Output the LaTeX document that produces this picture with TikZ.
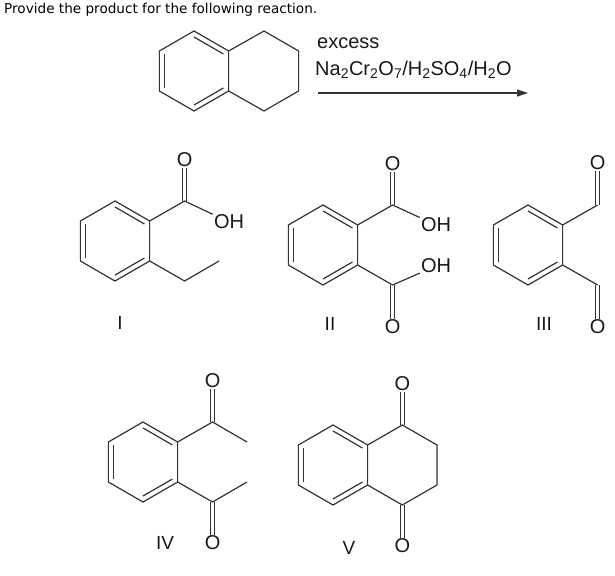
\documentclass[tikz,border=0pt]{standalone}
\usepackage{fontspec}
\setmainfont{Liberation Sans}
\newfontfamily\titlefont{DejaVu Sans}
\usetikzlibrary{calc,arrows.meta}
\newcommand\benz[3]{%
  \coordinate (#1c) at (#2,#3);
  \coordinate (#1t) at ($(#1c)+(0,-40)$);
  \coordinate (#1ur) at ($(#1c)+(34.64,-20)$);
  \coordinate (#1lr) at ($(#1c)+(34.64,20)$);
  \coordinate (#1b) at ($(#1c)+(0,40)$);
  \coordinate (#1ll) at ($(#1c)+(-34.64,20)$);
  \coordinate (#1ul) at ($(#1c)+(-34.64,-20)$);
  \draw[bond] (#1t)--(#1ur)--(#1lr)--(#1b)--(#1ll)--(#1ul)--cycle;
  \draw[bond] ($(#1t)!0.15!(#1c)$)--($(#1ur)!0.15!(#1c)$);
  \draw[bond] ($(#1lr)!0.15!(#1c)$)--($(#1b)!0.15!(#1c)$);
  \draw[bond] ($(#1ll)!0.15!(#1c)$)--($(#1ul)!0.15!(#1c)$);
}
\newcommand\dbl[2]{%
  \draw[bond] ([xshift=-2.2pt]#1) -- ([xshift=-2.2pt]#2.south);
  \draw[bond] ([xshift=2.2pt]#1) -- ([xshift=2.2pt]#2.south);
}
\newcommand\dblup[2]{%
  \draw[bond] ([xshift=-2.2pt]#1) -- ([xshift=-2.2pt]#2.north);
  \draw[bond] ([xshift=2.2pt]#1) -- ([xshift=2.2pt]#2.north);
}
\begin{document}
\begin{tikzpicture}[x=1pt,y=-1pt,
  bond/.style={draw=black!80,line width=1.2pt},
  atom/.style={font=\fontsize{20}{21}\selectfont,text=black!90,inner sep=1pt},
  lab/.style={font=\fontsize{19}{20}\selectfont,text=black!90,inner sep=0pt}]
\useasboundingbox[fill=white] (0,0) rectangle (615,575);
\node[anchor=west,font=\titlefont\fontsize{13.6}{15}\selectfont,inner sep=0pt] (title) at (4,10) {Provide the product for the following reaction.};
% tetralin
\benz{a}{194}{71}
\coordinate (a1) at (264,31); \coordinate (a2) at (298.6,51);
\coordinate (a3) at (298.6,91); \coordinate (a4) at (264,111);
\draw[bond] (aur)--(a1)--(a2)--(a3)--(a4)--(alr);
\coordinate (arrs) at (318,93); \coordinate (arre) at (528,93);
\draw[bond,-{Triangle[length=11pt,width=7pt]}] (arrs)--(arre);
\node[atom,anchor=west] (exc) at (316,43) {excess};
\node[atom,anchor=west] (reag) at (314,70) {Na\textsubscript{2}Cr\textsubscript{2}O\textsubscript{7}/H\textsubscript{2}SO\textsubscript{4}/H\textsubscript{2}O};
% I
\benz{b}{115}{241}
\coordinate (b1) at (184.6,201);
\node[atom] (bo) at (184.6,160) {O};
\node[atom] (boh) at (229,222) {OH};
\coordinate (b2) at (184.6,281); \coordinate (b3) at (219,261);
\draw[bond] (bur)--(b1)--(boh);
\dbl{b1}{bo}
\draw[bond] (blr)--(b2)--(b3);
\node[lab] (L1) at (120,323) {I};
% II
\benz{c}{323}{245}
\coordinate (c1) at (392.6,205); \coordinate (c2) at (392.6,285);
\node[atom] (co1) at (392.6,164) {O};
\node[atom] (coh1) at (436,225) {OH};
\node[atom] (co2) at (392.6,327) {O};
\node[atom] (coh2) at (436,266) {OH};
\draw[bond] (cur)--(c1)--(coh1);
\draw[bond] (clr)--(c2)--(coh2);
\dbl{c1}{co1}
\dblup{c2}{co2}
\node[lab] (L2) at (330,324) {II};
% III
\benz{d}{528}{245}
\coordinate (d1) at (597.6,205); \coordinate (d2) at (597.6,285);
\node[atom] (do1) at (597.6,163) {O};
\node[atom] (do2) at (597.6,327) {O};
\draw[bond] (dur)--(d1); \draw[bond] (dlr)--(d2);
\dbl{d1}{do1}
\dblup{d2}{do2}
\node[lab] (L3) at (544,324) {III};
% IV
\benz{e}{143}{462}
\coordinate (e1) at (212.6,422); \coordinate (e2) at (212.6,502);
\coordinate (e3) at (247,442); \coordinate (e4) at (247,482);
\node[atom] (eo1) at (212.6,381) {O};
\node[atom] (eo2) at (212.6,543) {O};
\draw[bond] (eur)--(e1)--(e3); \draw[bond] (elr)--(e2)--(e4);
\dbl{e1}{eo1}
\dblup{e2}{eo2}
\node[lab] (L4) at (165,543) {IV};
% V
\benz{f}{333}{465}
\coordinate (f1) at (402.3,425); \coordinate (f2) at (437,445);
\coordinate (f3) at (437,485); \coordinate (f4) at (402.3,505);
\node[atom] (fo1) at (402.3,384) {O};
\node[atom] (fo2) at (402.3,546) {O};
\draw[bond] (fur)--(f1)--(f2)--(f3)--(f4)--(flr);
\dbl{f1}{fo1}
\dblup{f4}{fo2}
\node[lab] (L5) at (349,548) {V};
\end{tikzpicture}
\end{document}
